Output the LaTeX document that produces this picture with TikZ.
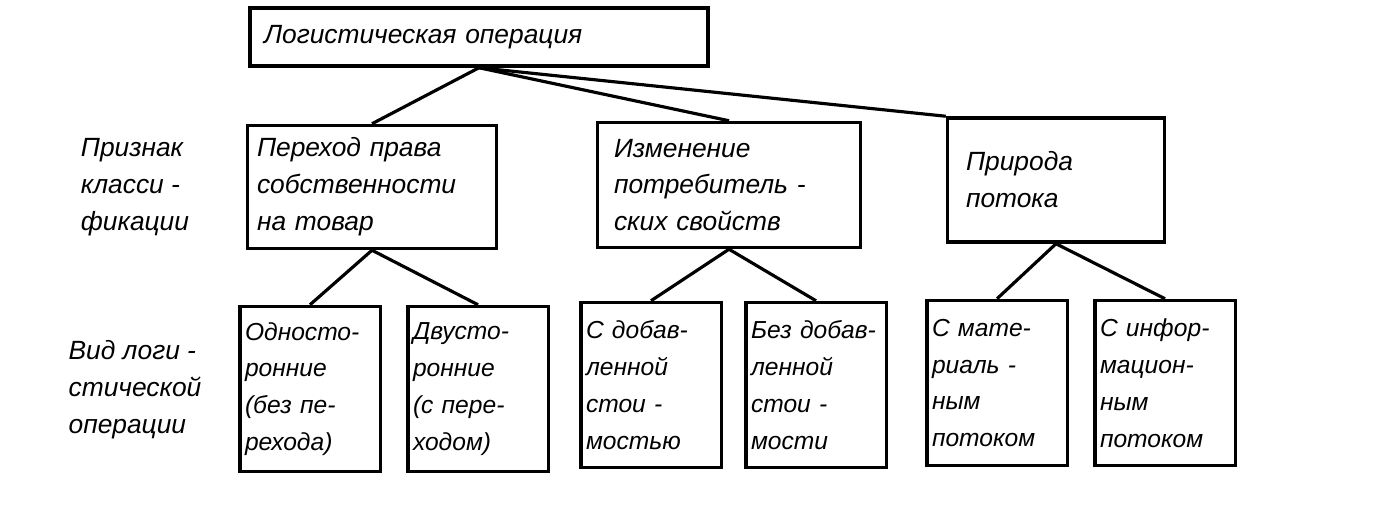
\documentclass[tikz,border=0pt]{standalone}
\usepackage{fontspec}
\setmainfont{Liberation Sans}
\usetikzlibrary{positioning}

\begin{document}
\begin{tikzpicture}[
    x=0.02cm, y=-0.02cm,
    every node/.style={font=\itshape\fontsize{15}{21}\selectfont},
    block/.style={rectangle, draw, line width=2pt, align=left, inner sep=3pt},
    leaf/.style={block, minimum width=2.7cm, minimum height=3.3cm, text width=2.6cm, font=\itshape\fontsize{14}{21}\selectfont},
    link/.style={line width=1.8pt}
]
    \useasboundingbox (0,0) rectangle (1381,516);

    \node[block, minimum width=9.16cm, minimum height=1.16cm, text width=8.6cm] (op) at (479,37) {Логистическая операция};

    \node[block, minimum width=4.98cm, minimum height=2.46cm, text width=4.6cm] (own) at (372,187) {Переход права\\собственности\\на товар};
    \node[block, minimum width=5.26cm, minimum height=2.5cm, text width=4.6cm] (prop) at (729,185) {Изменение\\потребитель -\\ских свойств};
    \node[block, minimum width=4.34cm, minimum height=2.48cm, text width=3.6cm] (flow) at (1056,180) {Природа\\потока};

    \node[leaf] (one) at (310,389) {Односто-\\ронние\\(без пе-\\рехода)};
    \node[leaf] (two) at (478,389) {Двусто-\\ронние\\(с пере-\\ходом)};
    \node[leaf] (add) at (651,385) {С~добав-\\ленной\\стои -\\мостью};
    \node[leaf] (noadd) at (816,385) {Без~добав-\\ленной\\стои -\\мости};
    \node[leaf] (mat) at (997,383) {С~мате-\\риаль -\\ным\\потоком};
    \node[leaf] (inf) at (1165,383) {С~инфор-\\мацион-\\ным\\потоком};

    % labels on the left
    \node[align=left] (sign) at (135,187) {Признак\\класси -\\фикации};
    \node[align=left] (kind) at (135,390) {Вид логи -\\стической\\операции};

    \draw[link] (op.south) -- (own.north);
    \draw[link] (op.south) -- (prop.north);
    \draw[link] (op.south) -- (flow.north west);
    \draw[link] (own.south) -- (one.north);
    \draw[link] (own.south) -- (two.north);
    \draw[link] (prop.south) -- (add.north);
    \draw[link] (prop.south) -- (noadd.north);
    \draw[link] (flow.south) -- (mat.north);
    \draw[link] (flow.south) -- (inf.north);
\end{tikzpicture}
\end{document}
